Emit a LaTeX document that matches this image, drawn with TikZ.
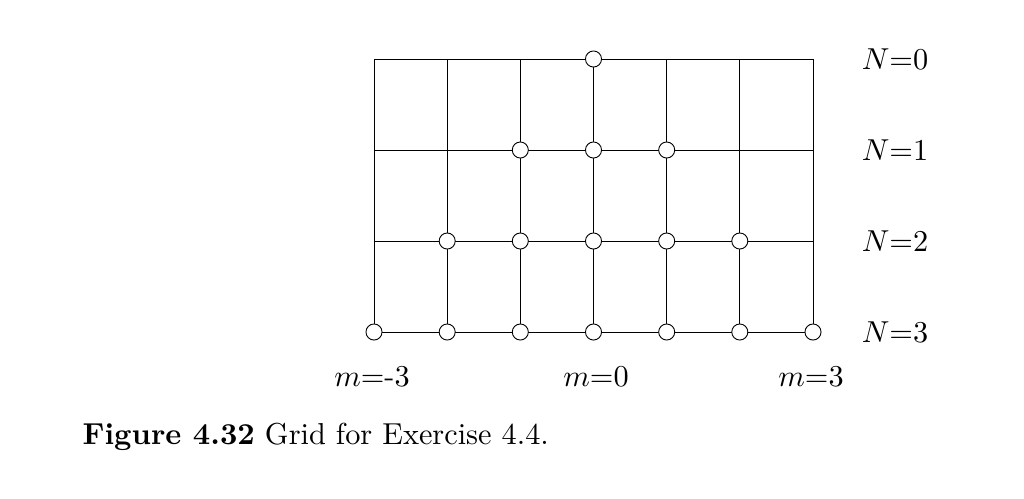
\documentclass[tikz,border=0pt]{standalone}
\begin{document}
\begin{tikzpicture}[x=0.33pt,y=-0.33pt,
  dot/.style={circle,draw,fill=white,inner sep=0pt,minimum size=5.3pt,line width=0.3pt},
  lbl/.style={inner sep=0pt}]
\useasboundingbox (0,0) rectangle (1024,498);
\foreach \i/\x in {0/374,1/447.2,2/520.3,3/593.5,4/666.7,5/739.8,6/813}{
  \coordinate (t\i) at (\x,59);
  \coordinate (b\i) at (\x,332);
  \draw[line width=0.3pt] (t\i) -- (b\i);
}
\foreach \j/\y in {0/59,1/150,2/241,3/332}{
  \coordinate (l\j) at (374,\y);
  \coordinate (r\j) at (813,\y);
  \draw[line width=0.3pt] (l\j) -- (r\j);
  \node[lbl] (N\j) at (895,\y) {$N$=\j};
}
\node[dot] (c03) at (593.5,59) {};
\foreach \x [count=\k] in {520.3,593.5,666.7}{\node[dot] (c1\k) at (\x,150) {};}
\foreach \x [count=\k] in {447.2,520.3,593.5,666.7,739.8}{\node[dot] (c2\k) at (\x,241) {};}
\foreach \x [count=\k] in {374,447.2,520.3,593.5,666.7,739.8,813}{\node[dot] (c3\k) at (\x,332) {};}
\node[lbl] (m1) at (372,377) {$m$=-3};
\node[lbl] (m2) at (596,377) {$m$=0};
\node[lbl] (m3) at (811,377) {$m$=3};
\node[lbl,anchor=west] (cap) at (82,437) {\textbf{Figure 4.32} Grid for Exercise 4.4.};
\end{tikzpicture}
\end{document}
